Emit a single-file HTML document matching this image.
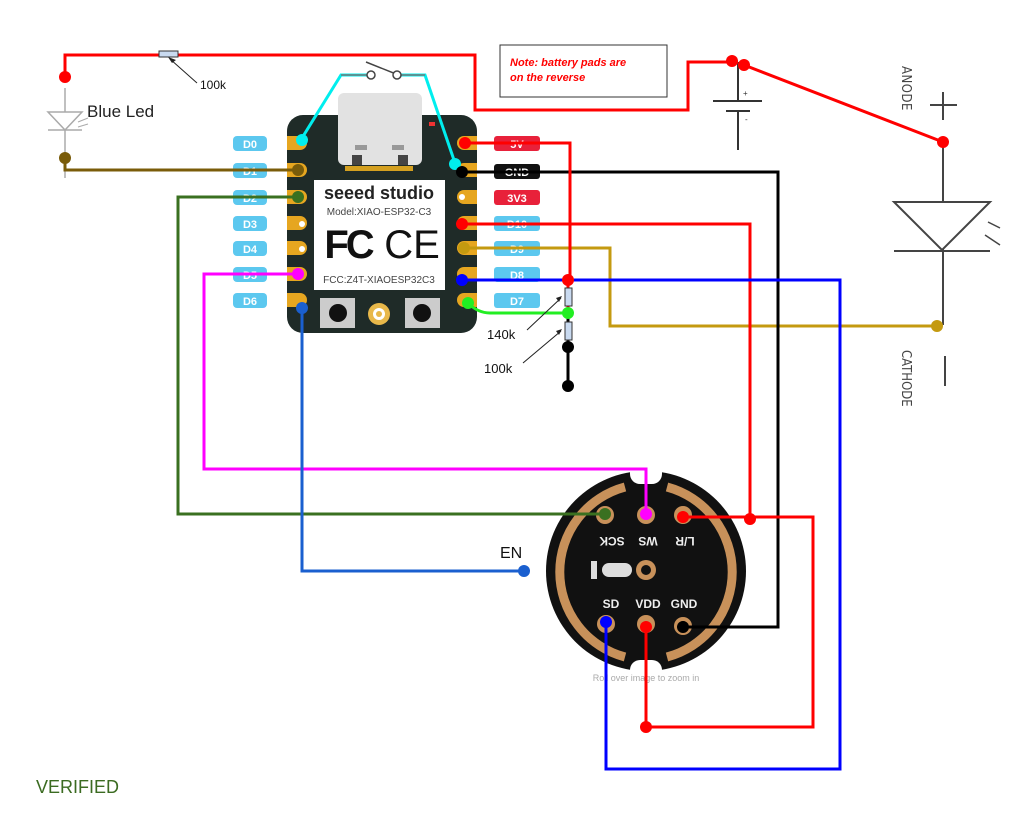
<!DOCTYPE html>
<html><head><meta charset="utf-8"><style>
html,body{margin:0;padding:0;background:#fff;}
svg{display:block;font-family:"Liberation Sans",sans-serif;}
</style></head><body>
<svg width="1031" height="819" viewBox="0 0 1031 819" xmlns="http://www.w3.org/2000/svg">
<rect width="1031" height="819" fill="#fff"/>

<!-- note -->
<rect x="500" y="45" width="167" height="52" fill="#fff" stroke="#333" stroke-width="1"/>
<text x="510" y="66" font-size="11" font-weight="bold" font-style="italic" fill="#f00">Note: battery pads are</text>
<text x="510" y="81" font-size="11" font-weight="bold" font-style="italic" fill="#f00">on the reverse</text>

<!-- left LED -->
<line x1="65" y1="88" x2="65" y2="178" stroke="#aaa" stroke-width="1.5"/>
<polygon points="48,112 82,112 65,130" fill="#fff" stroke="#aaa" stroke-width="1.5"/>
<line x1="48" y1="130" x2="82" y2="130" stroke="#aaa" stroke-width="1.5"/>
<line x1="78" y1="122" x2="88" y2="118" stroke="#aaa" stroke-width="1"/>
<line x1="78" y1="127" x2="88" y2="124" stroke="#aaa" stroke-width="1"/>
<text x="87" y="117" font-size="17" fill="#222">Blue Led</text>

<!-- battery -->
<line x1="738" y1="62" x2="738" y2="101" stroke="#333" stroke-width="2"/>
<line x1="713" y1="101" x2="762" y2="101" stroke="#333" stroke-width="2"/>
<line x1="726" y1="111" x2="750" y2="111" stroke="#333" stroke-width="2"/>
<line x1="738" y1="111" x2="738" y2="150" stroke="#333" stroke-width="2"/>
<text x="743" y="96" font-size="8" fill="#333">+</text>
<text x="745" y="122" font-size="8" fill="#333">-</text>

<!-- right LED -->
<text transform="translate(902,66) rotate(90)" font-size="13" fill="#444" font-family="'DejaVu Sans Condensed','Liberation Sans Narrow',sans-serif" letter-spacing="0.5">ANODE</text>
<line x1="930" y1="105" x2="957" y2="105" stroke="#444" stroke-width="2"/>
<line x1="943" y1="92" x2="943" y2="120" stroke="#444" stroke-width="2"/>
<line x1="943" y1="142" x2="943" y2="325" stroke="#444" stroke-width="2"/>
<polygon points="894,202 990,202 942,250" fill="#fff" stroke="#444" stroke-width="2"/>
<line x1="894" y1="251" x2="990" y2="251" stroke="#444" stroke-width="2"/>
<line x1="988" y1="222" x2="1000" y2="228" stroke="#444" stroke-width="1.5"/>
<line x1="985" y1="235" x2="1000" y2="245" stroke="#444" stroke-width="1.5"/>
<text transform="translate(902,350) rotate(90)" font-size="13" fill="#444" font-family="'DejaVu Sans Condensed','Liberation Sans Narrow',sans-serif">CATHODE</text>
<line x1="945" y1="356" x2="945" y2="386" stroke="#444" stroke-width="2"/>

<!-- pin labels -->
<g font-size="11" font-weight="bold" fill="#fff" text-anchor="middle">
<rect x="233" y="136" width="34" height="15" rx="4" fill="#5cc8ef"/><text x="250" y="148">D0</text>
<rect x="233" y="163" width="34" height="15" rx="4" fill="#5cc8ef"/><text x="250" y="175">D1</text>
<rect x="233" y="190" width="34" height="15" rx="4" fill="#5cc8ef"/><text x="250" y="202">D2</text>
<rect x="233" y="216" width="34" height="15" rx="4" fill="#5cc8ef"/><text x="250" y="228">D3</text>
<rect x="233" y="241" width="34" height="15" rx="4" fill="#5cc8ef"/><text x="250" y="253">D4</text>
<rect x="233" y="267" width="34" height="15" rx="4" fill="#5cc8ef"/><text x="250" y="279">D5</text>
<rect x="233" y="293" width="34" height="15" rx="4" fill="#5cc8ef"/><text x="250" y="305">D6</text>
<rect x="494" y="136" width="46" height="15" rx="3" fill="#e8213a"/><text x="517" y="148">5V</text>
<rect x="494" y="164" width="46" height="15" rx="3" fill="#111"/><text x="517" y="176">GND</text>
<rect x="494" y="190" width="46" height="15" rx="3" fill="#e8213a"/><text x="517" y="202">3V3</text>
<rect x="494" y="216" width="46" height="15" rx="3" fill="#5cc8ef"/><text x="517" y="228">D10</text>
<rect x="494" y="241" width="46" height="15" rx="3" fill="#5cc8ef"/><text x="517" y="253">D9</text>
<rect x="494" y="267" width="46" height="15" rx="3" fill="#5cc8ef"/><text x="517" y="279">D8</text>
<rect x="494" y="293" width="46" height="15" rx="3" fill="#5cc8ef"/><text x="517" y="305">D7</text>
</g>

<!-- board -->
<rect x="287" y="115" width="190" height="218" rx="16" fill="#1f2b28"/>
<rect x="338" y="93" width="84" height="72" rx="6" fill="#e2e2e2"/>
<rect x="355" y="145" width="12" height="5" fill="#999"/><rect x="392" y="145" width="12" height="5" fill="#999"/>
<rect x="352" y="155" width="10" height="10" fill="#444"/><rect x="398" y="155" width="10" height="10" fill="#444"/>
<rect x="345" y="166" width="68" height="5" fill="#d4a020"/>
<rect x="429" y="122" width="6" height="4" fill="#e33"/>
<rect x="314" y="180" width="131" height="110" fill="#fff"/>
<text x="379" y="199" font-size="18" font-weight="bold" text-anchor="middle" fill="#222">seeed studio</text>
<text x="379" y="215" font-size="10" text-anchor="middle" fill="#444">Model:XIAO-ESP32-C3</text>
<text x="348" y="258" font-size="40" font-weight="bold" text-anchor="middle" fill="#111" letter-spacing="-3">FC</text>
<text x="412" y="258" font-size="40" text-anchor="middle" fill="#111">CE</text>
<text x="379" y="283" font-size="10" text-anchor="middle" fill="#444">FCC:Z4T-XIAOESP32C3</text>
<rect x="320" y="298" width="35" height="30" fill="#ccc"/><circle cx="338" cy="313" r="9" fill="#111"/>
<rect x="405" y="298" width="35" height="30" fill="#ccc"/><circle cx="422" cy="313" r="9" fill="#111"/>
<circle cx="379" cy="314" r="11" fill="#e8b84a"/><circle cx="379" cy="314" r="6" fill="#fff"/><circle cx="379" cy="314" r="3" fill="#e8b84a"/>
<g fill="#e6a620">
<path d="M287,136 h13 a7,7 0 0 1 0,14 h-13z"/><path d="M287,163 h13 a7,7 0 0 1 0,14 h-13z"/><path d="M287,190 h13 a7,7 0 0 1 0,14 h-13z"/>
<path d="M287,216 h13 a7,7 0 0 1 0,14 h-13z"/><path d="M287,241 h13 a7,7 0 0 1 0,14 h-13z"/><path d="M287,267 h13 a7,7 0 0 1 0,14 h-13z"/>
<path d="M287,293 h13 a7,7 0 0 1 0,14 h-13z"/>
<path d="M477,136 h-13 a7,7 0 0 0 0,14 h13z"/><path d="M477,163 h-13 a7,7 0 0 0 0,14 h13z"/><path d="M477,190 h-13 a7,7 0 0 0 0,14 h13z"/>
<path d="M477,216 h-13 a7,7 0 0 0 0,14 h13z"/><path d="M477,241 h-13 a7,7 0 0 0 0,14 h13z"/><path d="M477,267 h-13 a7,7 0 0 0 0,14 h13z"/>
<path d="M477,293 h-13 a7,7 0 0 0 0,14 h13z"/>
</g>
<g fill="#fff"><circle cx="302" cy="224" r="3"/><circle cx="302" cy="249" r="3"/><circle cx="462" cy="197" r="3"/></g>

<!-- mic -->
<circle cx="646" cy="571" r="100" fill="#111"/>
<rect x="630" y="462" width="32" height="22" rx="10" fill="#fff"/>
<rect x="630" y="660" width="32" height="22" rx="10" fill="#fff"/>
<path d="M625,487 A88,88 0 0 0 625,657" fill="none" stroke="#c8915a" stroke-width="9"/>
<path d="M667,487 A88,88 0 0 1 667,657" fill="none" stroke="#c8915a" stroke-width="9"/>
<g fill="#c8915a">
<circle cx="605" cy="515" r="9"/><circle cx="646" cy="515" r="9"/><circle cx="683" cy="515" r="9"/>
<circle cx="646" cy="570" r="10"/><circle cx="606" cy="624" r="9"/><circle cx="646" cy="624" r="9"/><circle cx="683" cy="626" r="9"/>
</g>
<circle cx="646" cy="570" r="5" fill="#111"/>
<circle cx="683" cy="626" r="5" fill="#111"/>
<rect x="602" y="563" width="30" height="14" rx="7" fill="#ddd"/>
<rect x="591" y="561" width="6" height="18" fill="#ddd"/>
<g font-size="12" font-weight="bold" fill="#eee" text-anchor="middle">
<text transform="translate(612,537) rotate(180)">SCK</text>
<text transform="translate(648,537) rotate(180)">WS</text>
<text transform="translate(685,537) rotate(180)">L/R</text>
<text x="611" y="608">SD</text><text x="648" y="608">VDD</text><text x="684" y="608">GND</text>
</g>
<text x="646" y="681" font-size="9" fill="#aaa" text-anchor="middle">Roll over image to zoom in</text>

<!-- top red wire -->
<polyline points="65,77 65,55 475,55 475,110 688,110 688,62 738,62" fill="none" stroke="#f00" stroke-width="3"/>
<rect x="159" y="51" width="19" height="6" fill="#c9daf0" stroke="#333" stroke-width="1"/>
<line x1="197" y1="83" x2="170" y2="59" stroke="#222" stroke-width="1"/>
<polygon points="168,57 176,60 172,63" fill="#222"/>
<text x="200" y="89" font-size="12" fill="#111">100k</text>
<circle cx="65" cy="77" r="6" fill="#f00"/>
<line x1="744" y1="65" x2="943" y2="142" stroke="#f00" stroke-width="3"/>
<circle cx="732" cy="61" r="6" fill="#f00"/>
<circle cx="744" cy="65" r="6" fill="#f00"/>
<circle cx="943" cy="142" r="6" fill="#f00"/>
<polyline points="65,158 65,170 300,170" fill="none" stroke="#7a5c0a" stroke-width="3"/>
<circle cx="65" cy="158" r="6" fill="#7a5c0a"/>

<!-- wires -->
<polyline points="462,248 610,248 610,326 937,326" fill="none" stroke="#c49a10" stroke-width="3"/>
<circle cx="937" cy="326" r="6" fill="#c49a10"/>
<polyline points="462,172 778,172 778,627 683,627" fill="none" stroke="#000" stroke-width="3"/>
<polyline points="462,224 750,224 750,519" fill="none" stroke="#f00" stroke-width="3"/>
<polyline points="683,517 813,517 813,727 646,727 646,627" fill="none" stroke="#f00" stroke-width="3"/>
<polyline points="462,280 840,280 840,769 606,769 606,622" fill="none" stroke="#00f" stroke-width="3"/>
<polyline points="300,197 178,197 178,514 605,514" fill="none" stroke="#3a7020" stroke-width="3"/>
<polyline points="298,274 204,274 204,469 646,469 646,514" fill="none" stroke="#f0f" stroke-width="3"/>
<polyline points="302,306 302,571 524,571" fill="none" stroke="#1a5fcf" stroke-width="3"/>
<circle cx="524" cy="571" r="6" fill="#1a5fcf"/>
<text x="500" y="558" font-size="16" fill="#111">EN</text>
<polyline points="462,143 570,143 570,280" fill="none" stroke="#f00" stroke-width="3"/>
<path d="M468,303 Q478,313 490,313 L568,313" fill="none" stroke="#2e2" stroke-width="3"/>
<line x1="568" y1="280" x2="568" y2="386" stroke="#000" stroke-width="3"/>
<line x1="568" y1="280" x2="568" y2="313" stroke="#f00" stroke-width="3"/>
<rect x="565" y="288" width="7" height="18" fill="#c9daf0" stroke="#333"/>
<rect x="565" y="322" width="7" height="18" fill="#c9daf0" stroke="#333"/>
<circle cx="568" cy="280" r="6" fill="#f00"/>
<circle cx="568" cy="313" r="6" fill="#2e2"/>
<circle cx="568" cy="347" r="6" fill="#000"/>
<circle cx="568" cy="386" r="6" fill="#000"/>
<text x="487" y="339" font-size="13" fill="#111">140k</text>
<text x="484" y="373" font-size="13" fill="#111">100k</text>
<line x1="527" y1="330" x2="561" y2="298" stroke="#222"/>
<polygon points="562,296 556,298 559,302" fill="#222"/>
<line x1="523" y1="363" x2="561" y2="331" stroke="#222"/>
<polygon points="562,329 556,331 559,335" fill="#222"/>

<!-- switch -->
<polyline points="302,138 341,75 368,75" fill="none" stroke="#0ee" stroke-width="3"/>
<polyline points="401,75 425,75 455,163" fill="none" stroke="#0ee" stroke-width="3"/>
<line x1="341" y1="75" x2="368" y2="75" stroke="#777" stroke-width="1.5"/>
<line x1="401" y1="75" x2="425" y2="75" stroke="#777" stroke-width="1.5"/>
<line x1="366" y1="62" x2="396" y2="74" stroke="#444" stroke-width="1.5"/>
<circle cx="371" cy="75" r="4" fill="#fff" stroke="#444" stroke-width="1.5"/>
<circle cx="397" cy="75" r="4" fill="#fff" stroke="#444" stroke-width="1.5"/>
<circle cx="302" cy="140" r="6" fill="#0ee"/>
<circle cx="455" cy="164" r="6" fill="#0ee"/>

<!-- pad nodes -->
<circle cx="298" cy="170" r="6" fill="#7a5c0a"/>
<circle cx="298" cy="197" r="6" fill="#3a7020"/>
<circle cx="298" cy="274" r="6" fill="#f0f"/>
<circle cx="302" cy="308" r="6" fill="#1a5fcf"/>
<circle cx="465" cy="143" r="6" fill="#f00"/>
<circle cx="462" cy="172" r="6" fill="#000"/>
<circle cx="462" cy="224" r="6" fill="#f00"/>
<circle cx="464" cy="248" r="6" fill="#c49a10"/>
<circle cx="462" cy="280" r="6" fill="#00f"/>
<circle cx="468" cy="303" r="6" fill="#2e2"/>

<!-- mic nodes -->
<circle cx="605" cy="514" r="6" fill="#3a7020"/>
<circle cx="646" cy="514" r="6" fill="#f0f"/>
<circle cx="683" cy="517" r="6" fill="#f00"/>
<circle cx="750" cy="519" r="6" fill="#f00"/>
<circle cx="606" cy="622" r="6" fill="#00f"/>
<circle cx="646" cy="627" r="6" fill="#f00"/>
<circle cx="683" cy="627" r="6" fill="#000"/>
<circle cx="646" cy="727" r="6" fill="#f00"/>

<text x="36" y="793" font-size="18" fill="#3b6b21">VERIFIED</text>
</svg>
</body></html>
